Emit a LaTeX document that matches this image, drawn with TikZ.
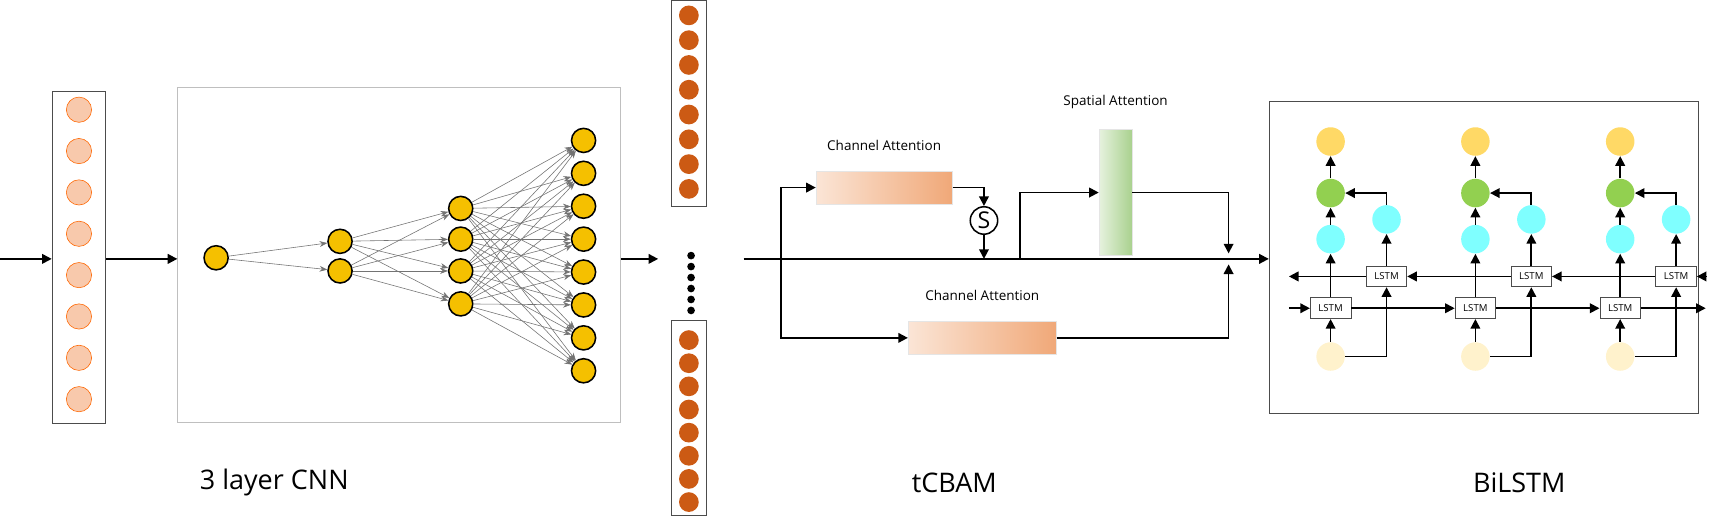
\documentclass[tikz,border=0pt]{standalone}
\usepackage{fontspec}
\setmainfont{Open Sans}
\usepackage{tikz}
\usetikzlibrary{arrows.meta,positioning}
\definecolor{cnnyel}{HTML}{F5C000}
\definecolor{lightor}{HTML}{F8C9AC}
\definecolor{darkor}{HTML}{CC5A14}
\definecolor{cyanc}{HTML}{7FFFFF}
\definecolor{greenc}{HTML}{92D050}
\definecolor{yelc}{HTML}{FFD966}
\definecolor{inc}{HTML}{FFF2CC}
\definecolor{caleft}{HTML}{FBE5D6}
\definecolor{caright}{HTML}{F0A878}
\definecolor{saleft}{HTML}{E6F2DE}
\definecolor{saright}{HTML}{A9D18E}
\begin{document}
\begin{tikzpicture}
        [x=0.02cm,y=-0.02cm,
        neuron/.style={circle,draw=black,fill=cnnyel,minimum size=0.44cm,inner sep=0pt,line width=0.8pt},
        inunit/.style={circle,draw=orange!80!red,fill=lightor,minimum size=0.46cm,inner sep=0pt,line width=0.3pt},
        feat/.style={circle,fill=darkor,minimum size=0.36cm,inner sep=0pt},
        cell/.style={circle,minimum size=0.52cm,inner sep=0pt},
        lstm/.style={draw=black!70,fill=white,minimum width=0.74cm,minimum height=0.38cm,inner sep=0pt,font=\fontsize{5}{6}\selectfont},
        arr/.style={-{Triangle[length=5pt,width=5pt]},line width=0.9pt},
        wire/.style={line width=0.9pt},
        title/.style={font=\fontsize{14}{17}\selectfont},
        small/.style={font=\fontsize{7}{8}\selectfont},
        ]%%%%%%%%%%%%%%%%%%%%%%%%%%%%%%
        \useasboundingbox (0,0) rectangle (1568,478);
        % Input column
        \node[draw=black!70,minimum width=0.98cm,minimum height=6.06cm,inner sep=0pt] (inbox) at (72,234.5){};
        \foreach \i in {1,...,8}{
          \node[inunit] (in\i) at (72,{100+(\i-1)*37.7}){};
        }
        \coordinate (start) at (0,236);
        \draw[arr] (start) -- (start-|inbox.west);
        % CNN
        \node[draw=black!25,minimum width=8.08cm,minimum height=6.1cm,inner sep=0pt] (cnn) at (364,232.5){};
        \draw[arr] (inbox.east|-start) -- (start-|cnn.west);
        \node[neuron] (a1) at (197,235){};
        \foreach \i/\y in {1/220,2/247}{ \node[neuron] (b\i) at (310,\y){}; }
        \foreach \i/\y in {1/190,2/218,3/247,4/277}{ \node[neuron] (c\i) at (420,\y){}; }
        \foreach \i in {1,...,8}{ \node[neuron] (d\i) at (532,{128+(\i-1)*30}){}; }
        \foreach \j in {1,2}{ \draw[-{Stealth[length=4pt]},black!55,line width=0.3pt] (a1) -- (b\j); }
        \foreach \i in {1,2}{ \foreach \j in {1,...,4}{
          \draw[-{Stealth[length=4pt]},black!55,line width=0.3pt] (b\i) -- (c\j); } }
        \foreach \i in {1,...,4}{ \foreach \j in {1,...,8}{
          \draw[-{Stealth[length=4pt]},black!55,line width=0.3pt] (c\i) -- (d\j); } }
        \draw[arr] (start-|cnn.east) -- (600,236);
        % Feature columns
        \node[draw=black!70,minimum width=0.64cm,minimum height=3.76cm,inner sep=0pt] (ftop) at (628,94){};
        \foreach \i in {1,...,8}{ \node[feat] (ft\i) at (628,{14+(\i-1)*22.6}){}; }
        \foreach \i in {0,...,5}{ \fill (630,{233+\i*10}) circle (0.07cm); }
        \node[draw=black!70,minimum width=0.64cm,minimum height=3.56cm,inner sep=0pt] (fbot) at (628,381){};
        \foreach \i in {1,...,8}{ \node[feat] (fb\i) at (628,{310+(\i-1)*21.1}){}; }
        % tCBAM
        \coordinate (m0) at (678,236);
        \coordinate (split) at (712,236);
        \coordinate (sum) at (1120,236);
        \node[minimum width=2.48cm,minimum height=0.6cm,inner sep=0pt,left color=caleft,right color=caright,draw=black!10] (ca1) at (806,171){};
        \node[small,above=0.25cm of ca1] {Channel Attention};
        \node[circle,draw=black,line width=0.8pt,minimum size=0.5cm,inner sep=0pt,font=\large] (s) at (897,201){S};
        \node[minimum width=0.6cm,minimum height=2.3cm,inner sep=0pt,left color=saleft,right color=saright,draw=black!10] (sa) at (1017,175.5){};
        \node[small,above=0.25cm of sa] {Spatial Attention};
        \node[minimum width=2.7cm,minimum height=0.6cm,inner sep=0pt,left color=caleft,right color=caright,draw=black!10] (ca2) at (895.5,308){};
        \node[small,above=0.25cm of ca2] {Channel Attention};
        \draw[wire] (m0) -- (sum);
        \draw[arr] (split) |- (ca1.west);
        \draw[arr] (split) |- (ca2.west);
        \draw[arr] (ca1.east) -| (s.north);
        \draw[arr] (s.south) -- (s.south|-m0);
        \draw[arr] (930,236) |- (sa.west);
        \draw[arr] (sa.east) -| ([yshift=0.1cm]sum);
        \draw[arr] (ca2.east) -| ([yshift=-0.1cm]sum);
        % BiLSTM
        \node[draw=black!70,minimum width=7.82cm,minimum height=5.7cm,inner sep=0pt] (bil) at (1352.5,234.5){};
        \draw[arr] (sum) -- (sum-|bil.west);
        \foreach \k/\x in {1/1213,2/1345,3/1477}{
          \node[cell,fill=yelc] (y\k) at (\x,129){};
          \node[cell,fill=greenc] (g\k) at (\x,176){};
          \node[cell,fill=cyanc] (hf\k) at (\x,218){};
          \node[cell,fill=cyanc] (hb\k) at (\x+51,200){};
          \node[lstm] (lf\k) at (\x,281){LSTM};
          \node[lstm] (lb\k) at (\x+51,252){LSTM};
          \node[cell,fill=inc] (x\k) at (\x,325){};
          \draw[arr] (x\k) -- (lf\k);
          \draw[arr] (x\k.east) -| (lb\k.south);
          \draw[arr] (lf\k.north) -- (hf\k);
          \draw[arr] (lb\k.north) -- (hb\k);
          \draw[arr] (hb\k.north) |- (g\k.east);
          \draw[arr] (hf\k) -- (g\k);
          \draw[arr] (g\k) -- (y\k);
        }
        \coordinate (fin) at (1175,281);
        \coordinate (fout) at (1555,281);
        \coordinate (bin) at (1556,252);
        \coordinate (bout) at (1175,252);
        \draw[arr] (fin) -- (lf1.west);
        \draw[arr] (lf1.east) -- (lf2.west);
        \draw[arr] (lf2.east) -- (lf3.west);
        \draw[arr] (lf3.east) -- (fout);
        \draw[arr] (bin) -- (lb3.east);
        \draw[arr] (lb3.west) -- (lb2.east);
        \draw[arr] (lb2.west) -- (lb1.east);
        \draw[arr] (lb1.west) -- (bout);
        % Captions
        \node[title] at (250,440) {3 layer CNN};
        \node[title] at (870,440) {tCBAM};
        \node[title] at (1385,440) {BiLSTM};
      \end{tikzpicture}
\end{document}
